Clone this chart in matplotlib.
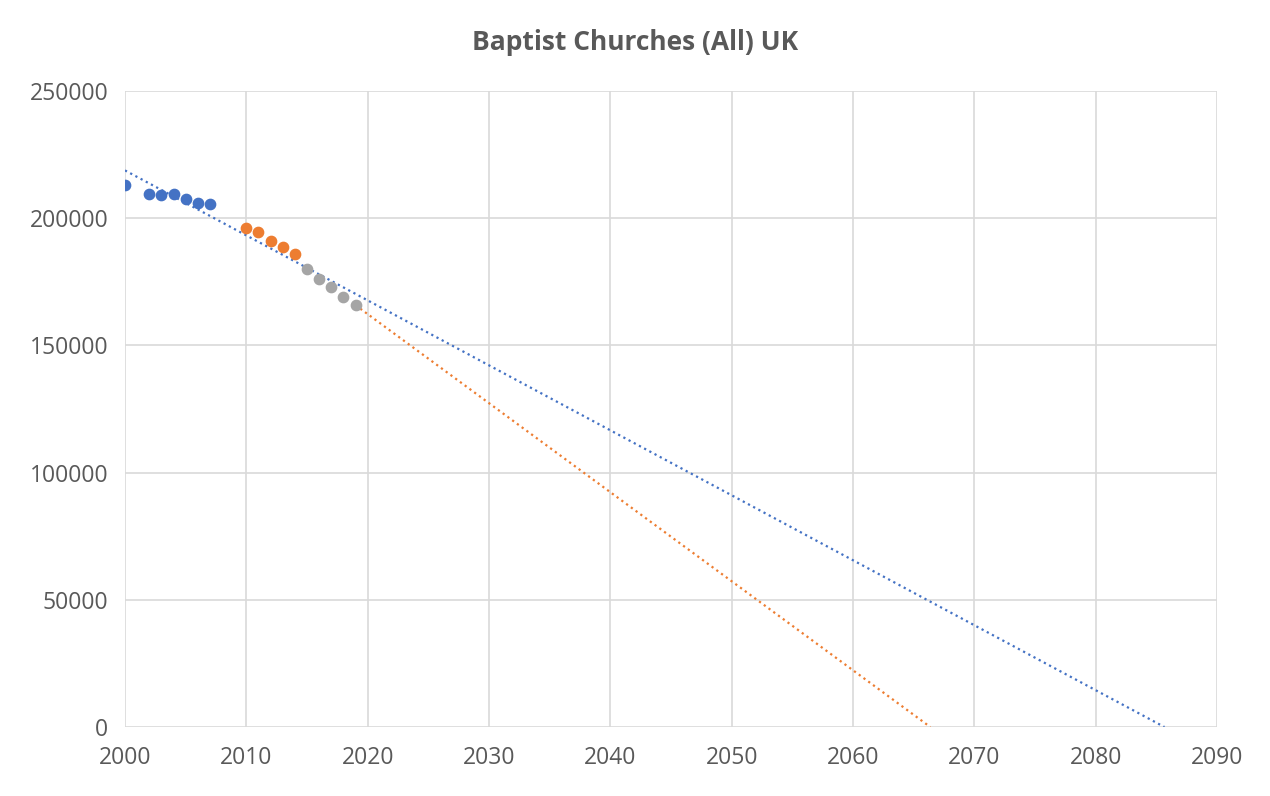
import numpy as np
import matplotlib
matplotlib.use("Agg")
import matplotlib.pyplot as plt

blue_x = [2000, 2002, 2003, 2004, 2005, 2006, 2007]
blue_y = [213000, 209500, 209000, 209500, 207500, 206000, 205500]
orange_x = [2010, 2011, 2012, 2013, 2014]
orange_y = [196000, 194500, 191000, 188500, 186000]
gray_x = [2015, 2016, 2017, 2018, 2019]
gray_y = [180000, 176000, 173000, 169000, 166000]

plt.rcParams['font.family'] = ['Open Sans', 'DejaVu Sans']
fig = plt.figure(figsize=(12.7, 7.96), dpi=100)
ax = fig.add_axes([125/1270, 1-727/796, 1092/1270, 636/796])

allx = np.array(blue_x + orange_x + gray_x, float)
ally = np.array(blue_y + orange_y + gray_y, float)
m, b = np.polyfit(allx, ally, 1)
x0 = -b / m
ax.plot([2000, x0], [m*2000+b, 0], ls=':', color='#4472C4', lw=1.6, zorder=2)
m2, b2 = np.polyfit(np.array(gray_x, float), np.array(gray_y, float), 1)
x02 = -b2 / m2
ax.plot([gray_x[-1], x02], [m2*gray_x[-1]+b2, 0], ls=':', color='#ED7D31', lw=1.6, zorder=2)

ax.scatter(blue_x, blue_y, s=55, color='#4472C4', zorder=3)
ax.scatter(orange_x, orange_y, s=55, color='#ED7D31', zorder=3)
ax.scatter(gray_x, gray_y, s=55, color='#A5A5A5', zorder=3)

ax.set_xlim(2000, 2090)
ax.set_ylim(0, 250000)
ax.set_xticks(range(2000, 2091, 10))
ax.set_yticks(range(0, 250001, 50000))
ax.grid(True, color='#D9D9D9', lw=1.2)
ax.set_axisbelow(True)
for s in ax.spines.values():
    s.set_visible(False)
ax.tick_params(length=0, labelsize=16.5, colors='#595959')
ax.tick_params(axis='x', pad=14)
ax.tick_params(axis='y', pad=12)
fig.text(0.5, 1-42/796, 'Baptist Churches (All) UK', ha='center', va='center',
         fontsize=19, fontweight='bold', color='#595959')
fig.savefig('out.png', dpi=100)
